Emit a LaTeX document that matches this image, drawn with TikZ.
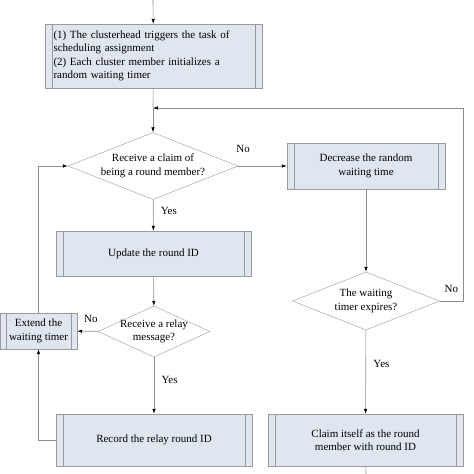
\documentclass[tikz,border=0pt]{standalone}
\usepackage{fontspec}
\setmainfont{Liberation Serif}
\usetikzlibrary{shapes.geometric,arrows.meta}

\definecolor{boxfill}{HTML}{DFE6F0}
\definecolor{boxline}{HTML}{9A9A9A}
\definecolor{flowline}{HTML}{8C8C8C}

\tikzset{
  procbox/.style={rectangle,draw=boxline,fill=boxfill,align=center,
    font=\fontsize{11}{13.5}\selectfont,inner sep=0pt,
    path picture={
      \draw[boxline] ([xshift=#1]path picture bounding box.north west)
        -- ([xshift=#1]path picture bounding box.south west);
      \draw[boxline] ([xshift=-#1]path picture bounding box.north east)
        -- ([xshift=-#1]path picture bounding box.south east);}},
  procbox/.default=7pt,
  decision/.style={diamond,draw=boxline,fill=white,align=center,
    font=\fontsize{11}{13.5}\selectfont,inner xsep=-8pt,inner ysep=0pt},
  flow/.style={draw=flowline,line width=0.6pt},
  arr/.style={flow,-{Latex[black,length=5pt,width=3.5pt]}},
  lbl/.style={font=\fontsize{11}{13.5}\selectfont}
}

\begin{document}
\begin{tikzpicture}[x=1pt,y=-1pt]
\useasboundingbox (0,0) rectangle (474,474);

% Left column
\node[procbox,minimum width=217pt,minimum height=64pt,text width=200pt,
  align=left,inner xsep=8.5pt] (init) at (153.5,56)
  {(1) The clusterhead triggers the task of\\scheduling assignment\\
   (2) Each cluster member initializes a\\random waiting timer};
\node[decision,aspect=2.5,minimum width=170pt,minimum height=67pt] (claimq) at (153,166)
  {Receive a claim of\\being a round member?};
\node[procbox,minimum width=195pt,minimum height=45pt] (update) at (153.5,253.5)
  {Update the round ID};
\node[decision,aspect=2.2,minimum width=112pt,minimum height=51pt] (relayq) at (154,331.5)
  {Receive a relay\\message?};
\node[procbox,minimum width=196pt,minimum height=52pt] (record) at (154,440)
  {Record the relay round ID};
\node[procbox=6pt,minimum width=77pt,minimum height=36pt] (extend) at (38.5,331)
  {Extend the\\waiting timer};

% Right column
\node[procbox,minimum width=158pt,minimum height=46pt] (decrease) at (366,166)
  {Decrease the random\\waiting time};
\node[decision,aspect=2.5,minimum width=147pt,minimum height=58pt] (expireq) at (366,301)
  {The waiting\\timer expires?};
\node[procbox,minimum width=195pt,minimum height=52pt] (claim) at (365.5,440)
  {Claim itself as the round\\member with round ID};

% Loose ends
\coordinate (start) at (153,0);
\coordinate (join) at (153,108);
\coordinate (finish) at (366,474);

% Connectors
\draw[arr] (start) -- (init);
\draw[flow] (init) -- (join);
\draw[arr] (join) -- (claimq);
\draw[arr] (claimq) -- node[lbl,pos=0.1,above=10pt]{No} (decrease);
\draw[arr] (claimq) -- node[lbl,right=4pt,pos=0.35]{Yes} (update);
\draw[arr] (update) -- (relayq);
\draw[arr] (relayq) -- node[lbl,above=5pt,pos=0.35]{No} (extend);
\draw[arr] (relayq) -- node[lbl,right=4pt,pos=0.4]{Yes} (record);
\draw[arr] (extend.north) |- (claimq.west);
\draw[arr] (record.west) -| (extend.south);
\draw[arr] (decrease) -- (expireq);
\draw[arr] (expireq) -- node[lbl,right=4pt,pos=0.4]{Yes} (claim);
\draw[arr] (expireq.east) -- ++(24,0)
  node[lbl,anchor=south east,xshift=-2pt,yshift=5pt]{No} |- (join);
\draw[flow] (claim) -- (finish);

\end{tikzpicture}
\end{document}
